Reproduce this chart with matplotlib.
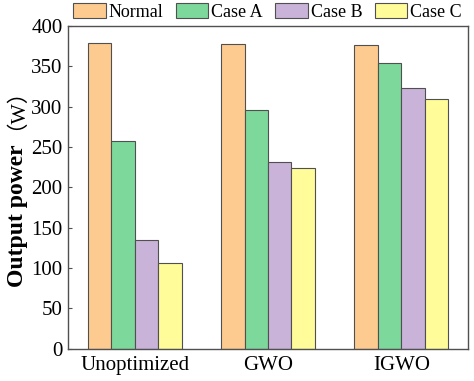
import matplotlib
matplotlib.use("Agg")
import matplotlib.pyplot as plt
import numpy as np

# data
groups = ["Unoptimized", "GWO", "IGWO"]
series_names = ["Normal", "Case A", "Case B", "Case C"]
normal = [379, 378, 376]
case_a = [258, 296, 354]
case_b = [135, 231, 323]
case_c = [106, 224, 310]

colors = ["#FDCB8F", "#7DD89B", "#C9B3D9", "#FFFC99"]
EDGE = "#505050"

plt.rcParams["font.family"] = ["Liberation Serif", "Noto Sans CJK SC"]

W, H = 474, 381
fig = plt.figure(figsize=(W / 100, H / 100), dpi=100)
ax = fig.add_axes([68 / W, 1 - 348.7 / H, 400 / W, 322.7 / H])

x = np.arange(len(groups))
width = 0.176
offsets = (np.arange(4) - 1.5) * width
for off, vals, name, col in zip(offsets, [normal, case_a, case_b, case_c], series_names, colors):
    ax.bar(x + off, vals, width, color=col, edgecolor=EDGE, linewidth=0.8, label=name)

ax.set_xlim(-0.5, 2.5)
ax.set_ylim(0, 400)
ax.set_yticks(range(0, 401, 50))
ax.set_xticks(x)
ax.set_xticklabels(groups)
ax.tick_params(axis="y", direction="in", length=3, labelsize=15, color=EDGE, pad=4)
ax.tick_params(axis="x", length=0, labelsize=15, pad=5)
for sp in ax.spines.values():
    sp.set_color(EDGE)
    sp.set_linewidth(1.0)

# y label: bold text plus a lighter unit part, placed on a common baseline
fig.text(23 / W, 1 - 287 / H, "Output power", rotation=90, rotation_mode="anchor",
         ha="left", va="baseline", fontsize=17, fontweight="bold")
fig.text(11 / W, 1 - 130 / H, "（W）", rotation=90, rotation_mode="anchor",
         ha="left", va="baseline", fontsize=15.5)

fig.legend(*ax.get_legend_handles_labels(), loc="center",
           bbox_to_anchor=(267.5 / W, 1 - 12 / H), ncol=4, frameon=False,
           fontsize=13, handlelength=1.8, handleheight=0.85, columnspacing=0.7,
           handletextpad=0.15, borderaxespad=0.0, borderpad=0.0)

fig.savefig("out.png", dpi=100)
